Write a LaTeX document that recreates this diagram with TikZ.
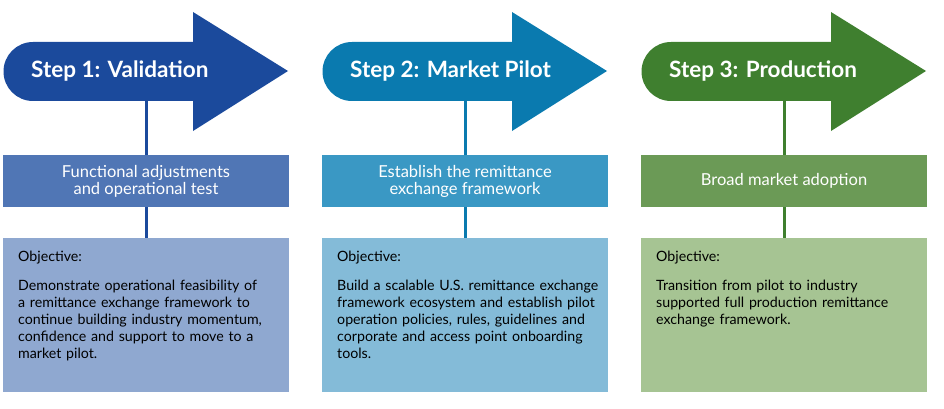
\documentclass[tikz,border=0pt]{standalone}
\usepackage{fontspec}
\setmainfont{Lato}
\usetikzlibrary{positioning}
\definecolor{stepA}{RGB}{27,74,156}
\definecolor{midA}{RGB}{80,118,181}
\definecolor{objA}{RGB}{143,168,208}
\definecolor{stepB}{RGB}{10,122,175}
\definecolor{midB}{RGB}{58,152,196}
\definecolor{objB}{RGB}{132,187,216}
\definecolor{stepC}{RGB}{63,127,47}
\definecolor{midC}{RGB}{107,154,86}
\definecolor{objC}{RGB}{166,196,147}
\begin{document}
\begin{tikzpicture}[x=1pt,y=-1pt,
  title/.style={anchor=west,text=white,font=\fontsize{22.5}{26}\selectfont\bfseries,inner sep=0pt},
  mid/.style={minimum width=286pt,minimum height=52pt,inner sep=0pt,text=white,align=center,font=\fontsize{16.5}{17}\selectfont},
  obj/.style={minimum width=286pt,minimum height=154pt,inner sep=0pt,text=black!85},
  txt/.style={anchor=north west,align=left,inner sep=0pt,text width=275pt,font=\fontsize{14.2}{17}\selectfont}]
  \useasboundingbox (0,0) rectangle (944,409);

  \foreach \dx/\col/\name/\mtext/\otext in {
    0/A/Step 1: Validation/{Functional adjustments\\and operational test}/{Demonstrate operational feasibility of\\a remittance exchange framework to\\continue building industry momentum,\\confidence and support to move to a\\market pilot.},
    319/B/Step 2: Market Pilot/{Establish the remittance\\exchange framework}/{Build a scalable U.S. remittance exchange\\framework ecosystem and establish pilot\\operation policies, rules, guidelines and\\corporate and access point onboarding\\tools.},
    638/C/Step 3: Production/{Broad market adoption}/{Transition from pilot to industry\\supported full production remittance\\exchange framework.}}{
    \begin{scope}[xshift=\dx]
      % Arrow
      \fill [step\col] (33,42) -- (193,42) -- (193,12) -- (288,71) -- (193,131) -- (193,101) -- (33,101) .. controls (16.7,101) and (3.5,87.8) .. (3.5,71.5) .. controls (3.5,55.2) and (16.7,42) .. (33,42) -- cycle;
      \node [title] (t\col) at (31,71) {\name};
      % Boxes
      \node [mid,fill=mid\col] (m\col) at (146,181) {\mtext};
      \node [obj,fill=obj\col] (o\col) at (146,315) {};
      \node [txt] (ob\col) at (18,251) {Objective:\\[12pt]\otext};
      % Stem
      \draw [step\col,line width=3pt] (146,101) -- (m\col.north);
      \draw [step\col,line width=3pt] (m\col.south) -- (o\col.north);
    \end{scope}}
\end{tikzpicture}
\end{document}
